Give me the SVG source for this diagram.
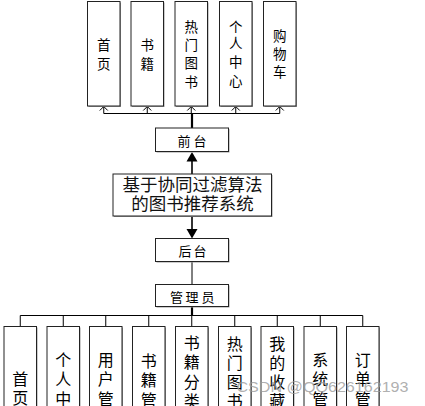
<svg xmlns="http://www.w3.org/2000/svg" width="425" height="406" viewBox="0 0 425 406">
<defs>
<style>
.box{fill:#fff;stroke:#222;stroke-width:1}
.sh{fill:#9a9a9a}
.t{font-family:"Noto Sans CJK SC","Noto Sans",sans-serif;fill:#000;text-anchor:middle;dominant-baseline:central}
.top{font-size:13.5px}
.bot{font-size:16px}
.mid{font-size:13px}
.main{font-family:"Liberation Serif","Noto Sans CJK SC",serif;font-size:17.5px;fill:#111;text-anchor:middle;dominant-baseline:central}
.ln{stroke:#000;stroke-width:1;fill:none}
.thk{stroke:#000;stroke-width:2.2;fill:none}
.wm{font-family:"Liberation Sans",sans-serif;font-size:15px;fill:#9a9a9a;fill-opacity:0.8}
</style>
<marker id="open" markerWidth="10" markerHeight="10" refX="5" refY="1" orient="auto-start-reverse" markerUnits="userSpaceOnUse" viewBox="0 0 10 10">
<path d="M1,5 L5,1 L9,5" fill="none" stroke="#000" stroke-width="1"/>
</marker>
</defs>
<rect width="425" height="406" fill="#fff"/>

<g id="connectors">
<path class="ln" d="M103.75,113.5 H279.75"/>
<path class="ln" d="M103.75,113.5 V106.5 M147.25,113.5 V106.5 M191.25,113.5 V106.5 M235.75,113.5 V106.5 M279.75,113.5 V106.5"/>
<path class="ln" d="M99.75,110.5 L103.75,106.5 L107.75,110.5 M143.25,110.5 L147.25,106.5 L151.25,110.5 M187.25,110.5 L191.25,106.5 L195.25,110.5 M231.75,110.5 L235.75,106.5 L239.75,110.5 M275.75,110.5 L279.75,106.5 L283.75,110.5"/>
<path class="thk" d="M192,113.5 V128"/>
<path class="thk" d="M192,174 V160" style="stroke-width:1.6"/>
<path d="M192,152 L186.5,161.5 L197.5,161.5 Z" fill="#000"/>
<path class="thk" d="M192,216 V230" style="stroke-width:1.6"/>
<path d="M192,238.5 L186.5,229 L197.5,229 Z" fill="#000"/>
<path class="ln" d="M192,261.5 V284.5"/>
<path class="thk" d="M192,306.5 V315.5"/>
<path class="ln" d="M20.25,315.5 H362.75"/>
<path class="ln" d="M20.25,315.5 V326.5 M63.25,315.5 V326.5 M105.75,315.5 V326.5 M148.75,315.5 V326.5 M191.75,315.5 V326.5 M234.75,315.5 V326.5 M277.25,315.5 V326.5 M320.25,315.5 V326.5 M362.75,315.5 V326.5"/>
</g>

<g id="n-shouye-top">
<rect class="sh" x="88.5" y="2.5" width="32.5" height="104.5"/>
<rect class="box" x="87.5" y="1.5" width="32.5" height="104.5"/>
<text class="t top"><tspan x="103.75" y="44">首</tspan><tspan x="103.75" y="62.5">页</tspan></text>
</g>
<g id="n-shuji-top">
<rect class="sh" x="132" y="2.5" width="32.5" height="104.5"/>
<rect class="box" x="131" y="1.5" width="32.5" height="104.5"/>
<text class="t top"><tspan x="147.25" y="44">书</tspan><tspan x="147.25" y="62.5">籍</tspan></text>
</g>
<g id="n-remen-top">
<rect class="sh" x="176" y="2.5" width="32.5" height="104.5"/>
<rect class="box" x="175" y="1.5" width="32.5" height="104.5"/>
<text class="t top"><tspan x="191.25" y="26">热</tspan><tspan x="191.25" y="44">门</tspan><tspan x="191.25" y="62">图</tspan><tspan x="191.25" y="80.5">书</tspan></text>
</g>
<g id="n-geren-top">
<rect class="sh" x="220.5" y="2.5" width="32.5" height="104.5"/>
<rect class="box" x="219.5" y="1.5" width="32.5" height="104.5"/>
<text class="t top"><tspan x="235.75" y="26">个</tspan><tspan x="235.75" y="42">人</tspan><tspan x="235.75" y="61">中</tspan><tspan x="235.75" y="80">心</tspan></text>
</g>
<g id="n-gouwuche-top">
<rect class="sh" x="264.5" y="2.5" width="32.5" height="104.5"/>
<rect class="box" x="263.5" y="1.5" width="32.5" height="104.5"/>
<text class="t top"><tspan x="279.75" y="35">购</tspan><tspan x="279.75" y="52.5">物</tspan><tspan x="279.75" y="70.5">车</tspan></text>
</g>

<g id="n-qiantai">
<rect class="sh" x="156.5" y="129" width="73" height="23.5"/>
<rect class="box" x="155.5" y="128" width="73" height="23.5"/>
<text class="t mid"><tspan x="184" y="140">前</tspan><tspan x="200" y="140">台</tspan></text>
</g>

<g id="n-system">
<rect class="sh" x="114" y="175" width="158.5" height="42"/>
<rect class="box" x="113" y="174" width="158.5" height="42"/>
<text class="main"><tspan x="192.5" y="185">基于协同过滤算法</tspan><tspan x="192.5" y="203.5">的图书推荐系统</tspan></text>
</g>

<g id="n-houtai">
<rect class="sh" x="156.5" y="239.5" width="73" height="23"/>
<rect class="box" x="155.5" y="238.5" width="73" height="23"/>
<text class="t mid"><tspan x="185" y="250">后</tspan><tspan x="200" y="250">台</tspan></text>
</g>

<g id="n-admin">
<rect class="sh" x="156.5" y="285.5" width="73" height="22"/>
<rect class="box" x="155.5" y="284.5" width="73" height="22"/>
<text class="t mid"><tspan x="176.5" y="295.5">管</tspan><tspan x="192" y="295.5">理</tspan><tspan x="208" y="295.5">员</tspan></text>
</g>

<g id="n-shouye-bot">
<rect class="sh" x="5" y="327.5" width="32.5" height="90"/>
<rect class="box" x="4" y="326.5" width="32.5" height="90"/>
<text class="t bot"><tspan x="20.25" y="377.5">首</tspan><tspan x="20.25" y="397">页</tspan></text>
</g>
<g id="n-geren-bot">
<rect class="sh" x="48" y="327.5" width="32.5" height="90"/>
<rect class="box" x="47" y="326.5" width="32.5" height="90"/>
<text class="t bot"><tspan x="63.25" y="358.5">个</tspan><tspan x="63.25" y="378">人</tspan><tspan x="63.25" y="397.5">中</tspan></text>
</g>
<g id="n-yonghu-bot">
<rect class="sh" x="90.5" y="327.5" width="32.5" height="90"/>
<rect class="box" x="89.5" y="326.5" width="32.5" height="90"/>
<text class="t bot"><tspan x="105.75" y="359">用</tspan><tspan x="105.75" y="378">户</tspan><tspan x="105.75" y="397.5">管</tspan></text>
</g>
<g id="n-shuji-bot">
<rect class="sh" x="133.5" y="327.5" width="32.5" height="90"/>
<rect class="box" x="132.5" y="326.5" width="32.5" height="90"/>
<text class="t bot"><tspan x="148.75" y="359.5">书</tspan><tspan x="148.75" y="379">籍</tspan><tspan x="148.75" y="398.5">管</tspan></text>
</g>
<g id="n-fenlei-bot">
<rect class="sh" x="176.5" y="327.5" width="32.5" height="90"/>
<rect class="box" x="175.5" y="326.5" width="32.5" height="90"/>
<text class="t bot"><tspan x="191.75" y="342">书</tspan><tspan x="191.75" y="361">籍</tspan><tspan x="191.75" y="380.5">分</tspan><tspan x="191.75" y="399.5">类</tspan></text>
</g>
<g id="n-remen-bot">
<rect class="sh" x="219.5" y="327.5" width="32.5" height="90"/>
<rect class="box" x="218.5" y="326.5" width="32.5" height="90"/>
<text class="t bot"><tspan x="234.75" y="342.5">热</tspan><tspan x="234.75" y="361.5">门</tspan><tspan x="234.75" y="380.5">图</tspan><tspan x="234.75" y="399.5">书</tspan></text>
</g>
<g id="n-shoucang-bot">
<rect class="sh" x="262" y="327.5" width="32.5" height="90"/>
<rect class="box" x="261" y="326.5" width="32.5" height="90"/>
<text class="t bot"><tspan x="277.25" y="342.5">我</tspan><tspan x="277.25" y="361.5">的</tspan><tspan x="277.25" y="380.5">收</tspan><tspan x="277.25" y="399.5">藏</tspan></text>
</g>
<g id="n-xitong-bot">
<rect class="sh" x="305" y="327.5" width="32.5" height="90"/>
<rect class="box" x="304" y="326.5" width="32.5" height="90"/>
<text class="t bot"><tspan x="320.25" y="359">系</tspan><tspan x="320.25" y="378">统</tspan><tspan x="320.25" y="397.5">管</tspan></text>
</g>
<g id="n-dingdan-bot">
<rect class="sh" x="347.5" y="327.5" width="32.5" height="90"/>
<rect class="box" x="346.5" y="326.5" width="32.5" height="90"/>
<text class="t bot"><tspan x="362.75" y="359">订</tspan><tspan x="362.75" y="378">单</tspan><tspan x="362.75" y="397.5">管</tspan></text>
</g>

<text class="wm" x="236.5" y="392" textLength="172" lengthAdjust="spacingAndGlyphs">CSDN @QQ626162193</text>
</svg>
